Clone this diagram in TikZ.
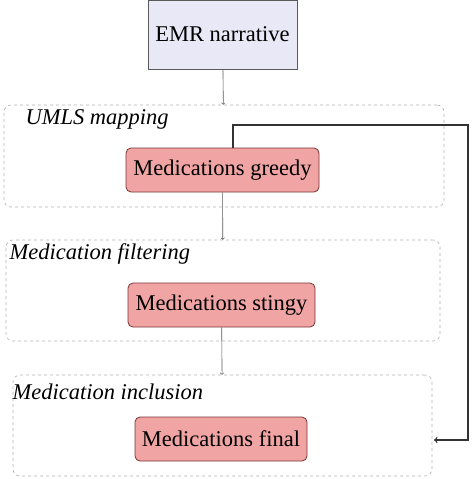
\documentclass[tikz,border=0pt]{standalone}
\usepackage{fontspec}
\setmainfont{Liberation Serif}
\usepackage{tikz}

\definecolor{emrfill}{HTML}{E8E8F6}
\definecolor{medfill}{HTML}{F0A4A4}
\definecolor{medline}{HTML}{7A3434}

\begin{document}
\begin{tikzpicture}[x=1pt, y=-1pt,
		font=\fontsize{22.5}{26}\selectfont,
		emr_style/.style={rectangle,draw=black!65,fill=emrfill,line width=0.8pt,inner sep=0pt},
		med_style/.style={rectangle,rounded corners=5pt,draw=medline,fill=medfill,line width=0.8pt,inner sep=0pt,minimum height=44pt},
		group_style/.style={rectangle,rounded corners=7pt,draw=black!30,dashed,line width=0.6pt},
		label_style/.style={anchor=west,font=\fontsize{22.5}{26}\selectfont\itshape},
		edge_style/.style={draw=black!65,line width=0.6pt,->},
		back_style/.style={draw=black!80,line width=1.3pt,->}]

		\useasboundingbox (0,0) rectangle (474,479);

		\node[group_style,minimum width=440pt,minimum height=102pt] (g1) at (224,156)  {};
		\node[group_style,minimum width=434pt,minimum height=101pt] (g2) at (223,290.5)  {};
		\node[group_style,minimum width=419pt,minimum height=101pt] (g3) at (222.5,425.5)  {};

		\node[label_style] (l1) at (22,119)  {UMLS mapping};
		\node[label_style] (l2) at (6,254)  {Medication filtering};
		\node[label_style] (l3) at (9,392)  {Medication inclusion};

		\node[emr_style,minimum width=149pt,minimum height=69pt] (emr) at (222.5,34.5)  {EMR narrative};
		\node[med_style,minimum width=193pt] (greedy) at (222.5,170)  {Medications greedy};
		\node[med_style,minimum width=187pt] (stingy) at (221.5,305)  {Medications stingy};
		\node[med_style,minimum width=172pt] (final) at (221,439)  {Medications final};

		\coordinate (c0) at (233,125);
		\coordinate (c1) at (468,125);
		\coordinate (c2) at (468,440);
		\coordinate (c3) at (434,440);

		\draw[edge_style]  (emr) -- (g1);
		\draw[edge_style]  (greedy) -- (g2);
		\draw[edge_style]  (stingy) -- (g3);
		\draw[back_style]  (greedy.north -| c0) -- (c0) -- (c1) -- (c2) -- (c3);
\end{tikzpicture}
\end{document}
